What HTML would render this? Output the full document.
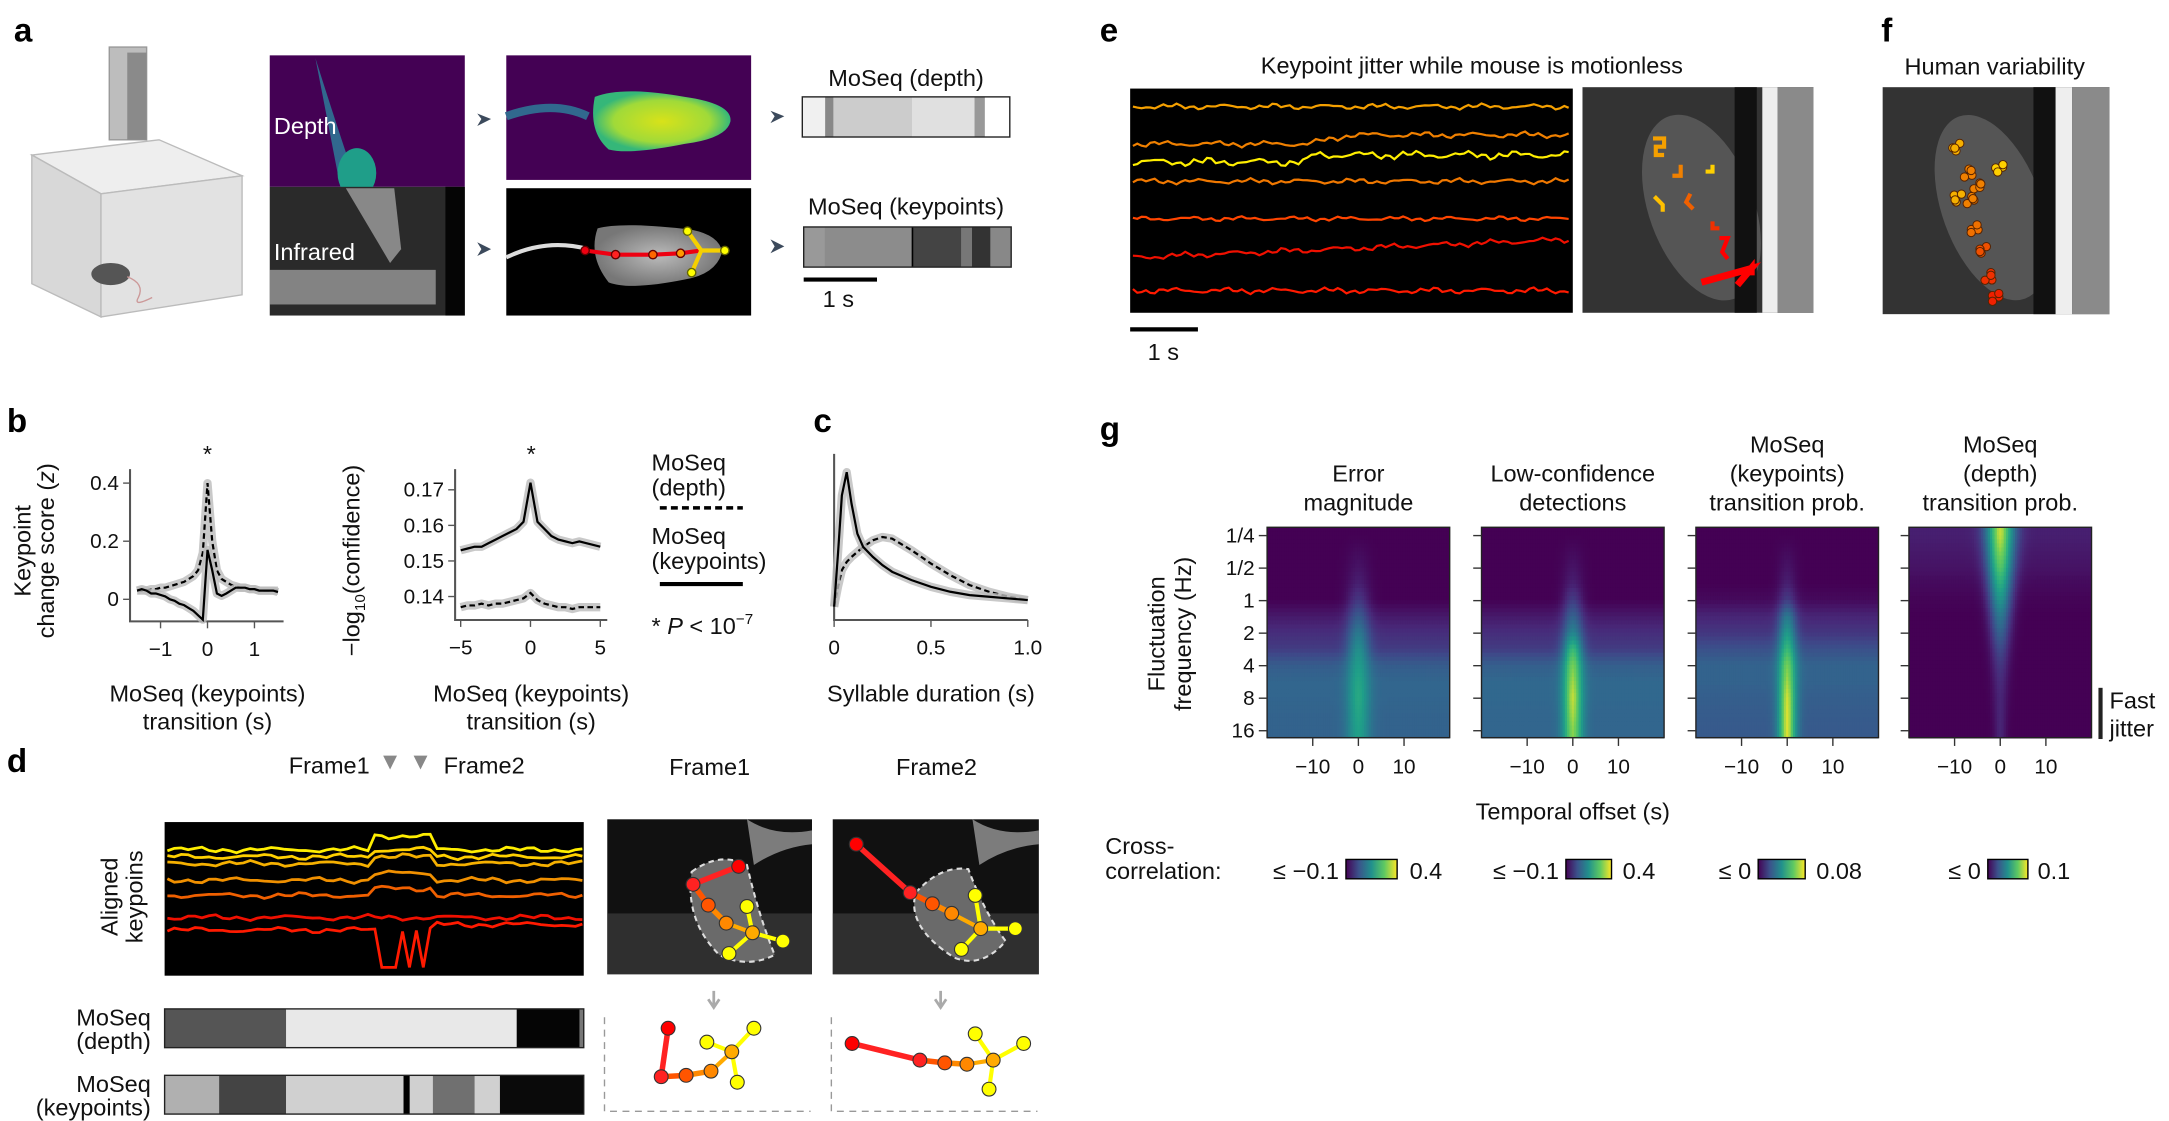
<!DOCTYPE html>
<html><head><meta charset="utf-8">
<style>
html,body{margin:0;padding:0;background:#fff;}
svg{display:block;font-family:"Liberation Sans",sans-serif;}
.lbl{font-weight:bold;font-size:24px;}
.t{font-size:17px;fill:#111;}
.tk{font-size:15px;fill:#111;}
</style></head>
<body>
<svg id="fig" width="2169" height="1121" viewBox="0 0 1568 810" preserveAspectRatio="none" xmlns="http://www.w3.org/2000/svg">
<defs>
<linearGradient id="vir" x1="0" x2="1" y1="0" y2="0">
<stop offset="0" stop-color="#440154"/><stop offset="0.25" stop-color="#3b528b"/><stop offset="0.5" stop-color="#21918c"/><stop offset="0.75" stop-color="#5ec962"/><stop offset="1" stop-color="#fde725"/>
</linearGradient>
<radialGradient id="mouseDepth" cx="0.5" cy="0.5" r="0.5"><stop offset="0" stop-color="#d8e219"/><stop offset="0.7" stop-color="#a0da39"/><stop offset="1" stop-color="#35b779"/></radialGradient>
<radialGradient id="mouseIR" cx="0.5" cy="0.5" r="0.5"><stop offset="0" stop-color="#bbb"/><stop offset="1" stop-color="#777"/></radialGradient>
</defs>

<!-- Panel a -->
<g>
<text class="lbl" x="10" y="30">a</text>
<rect x="79" y="34" width="27" height="67" fill="#bdbdbd" stroke="#999"/>
<rect x="92" y="38" width="14" height="63" fill="#8a8a8a"/>
<polygon points="23,112 115,101 175,127 73,140" fill="#eee" stroke="#bbb"/>
<polygon points="23,112 73,140 73,229 23,205" fill="#d8d8d8" stroke="#bbb"/>
<polygon points="73,140 175,127 175,213 73,229" fill="#e2e2e2" stroke="#bbb"/>
<ellipse cx="80" cy="198" rx="14" ry="8" fill="#555"/>
<path d="M92 200 Q105 205 100 215 Q96 222 110 215" stroke="#c99" fill="none"/>

<rect x="195" y="40" width="141" height="95" fill="#440154"/>
<path d="M228 42 Q240 80 250 110 L262 135 L246 135 Z" fill="#31688e"/>
<ellipse cx="258" cy="125" rx="14" ry="18" fill="#1f9e89"/>
<text x="198" y="97" fill="#fff" font-size="17">Depth</text>
<rect x="195" y="135" width="141" height="93" fill="#2a2a2a"/>
<path d="M250 136 L285 136 L290 180 L282 190 Z" fill="#888"/>
<rect x="195" y="195" width="120" height="25" fill="#aaa" opacity="0.7"/>
<rect x="322" y="135" width="14" height="93" fill="#050505"/>
<text x="198" y="188" fill="#fff" font-size="17">Infrared</text>

<rect x="366" y="40" width="177" height="90" fill="#440154"/>
<path d="M366 84 Q400 72 425 84" stroke="#31688e" stroke-width="6" fill="none"/>
<path d="M430 70 Q450 62 495 70 Q530 75 528 88 Q525 100 495 104 Q455 112 440 108 Q425 95 430 70 Z" fill="url(#mouseDepth)"/>
<rect x="366" y="136" width="177" height="92" fill="#000"/>
<path d="M366 186 Q395 172 425 180" stroke="#ddd" stroke-width="3" fill="none"/>
<path d="M432 165 Q450 160 500 166 Q520 170 522 182 Q518 198 495 202 Q455 210 440 204 Q425 185 432 165 Z" fill="url(#mouseIR)"/>
<g>
<polyline points="423,181 445,184 472,184 492,183 507,181" stroke="#e01" stroke-width="3" fill="none"/>
<polyline points="497,167 507,181 500,197" stroke="#f5d000" stroke-width="3" fill="none"/>
<polyline points="507,181 524,181" stroke="#f5d000" stroke-width="3" fill="none"/>
<circle cx="423" cy="181" r="3" fill="#e01" stroke="#600"/><circle cx="445" cy="184" r="3" fill="#f22" stroke="#600"/><circle cx="472" cy="184" r="3" fill="#f60" stroke="#600"/><circle cx="492" cy="183" r="3" fill="#f90" stroke="#600"/><circle cx="497" cy="167" r="3" fill="#ff0" stroke="#660"/><circle cx="500" cy="197" r="3" fill="#ff0" stroke="#660"/><circle cx="524" cy="181" r="3" fill="#ff0" stroke="#660"/>
</g>
<path d="M345 82 L355 86 L345 91 L348 86 Z" fill="#3c4a5c"/>
<path d="M345 175 L355 180 L345 185 L348 180 Z" fill="#3c4a5c"/>
<path d="M557 80 L567 84 L557 89 L560 84 Z" fill="#3c4a5c"/>
<path d="M557 173 L567 178 L557 183 L560 178 Z" fill="#3c4a5c"/>
<text class="t" x="655" y="62" text-anchor="middle" font-size="19">MoSeq (depth)</text>
<g id="barA1"></g>
<text class="t" x="655" y="155" text-anchor="middle" font-size="19">MoSeq (keypoints)</text>
<g id="barA2"></g>
<line x1="581" y1="202" x2="634" y2="202" stroke="#000" stroke-width="3"/>
<text class="t" x="606" y="222" text-anchor="middle">1 s</text>
</g>

<!-- Panel e -->
<g>
<text class="lbl" x="795" y="30">e</text>
<text class="t" x="1064" y="53" text-anchor="middle">Keypoint jitter while mouse is motionless</text>
<rect x="817" y="64" width="320" height="162" fill="#000"/>
<g id="eTraces"></g>
<rect x="1144" y="63" width="167" height="163" fill="#333"/>
<ellipse cx="1230" cy="150" rx="38" ry="70" fill="#555" transform="rotate(-20 1230 150)"/>
<rect x="1254" y="63" width="16" height="163" fill="#111"/>
<rect x="1274" y="63" width="11" height="163" fill="#eee"/>
<rect x="1285" y="63" width="26" height="163" fill="#8a8a8a"/>
<g fill="none" stroke-width="3">
<path d="M1195 100 l8 0 l0 6 l-6 0 l0 6 l6 0" stroke="#f5a000"/>
<path d="M1215 119 l0 8 l-6 0" stroke="#f08000"/>
<path d="M1238 119 l0 5 l-5 0" stroke="#ffd000"/>
<path d="M1196 142 l6 6 l0 5" stroke="#ffc000"/>
<path d="M1222 140 l-3 6 l5 5" stroke="#f06000"/>
<path d="M1238 160 l0 5 l5 0" stroke="#f03000"/>
<path d="M1243 172 l6 0 l-4 10 l4 5" stroke="#f00"/>
<path d="M1230 204 l36 -10 l-10 12 l10 -12 l0 5" stroke="#f00" stroke-width="5"/>
</g>
<line x1="817" y1="238" x2="866" y2="238" stroke="#000" stroke-width="3"/>
<text class="t" x="841" y="260" text-anchor="middle">1 s</text>
</g>

<!-- Panel f -->
<g>
<text class="lbl" x="1360" y="30">f</text>
<text class="t" x="1442" y="54" text-anchor="middle">Human variability</text>
<rect x="1361" y="63" width="164" height="164" fill="#333"/>
<ellipse cx="1440" cy="150" rx="36" ry="70" fill="#555" transform="rotate(-20 1440 150)"/>
<rect x="1470" y="63" width="16" height="164" fill="#111"/>
<rect x="1486" y="63" width="12" height="164" fill="#eee"/>
<rect x="1498" y="63" width="27" height="164" fill="#8a8a8a"/>
<g id="fDots"></g>
</g>

<!-- Panel b -->
<g>
<text class="lbl" x="5" y="312">b</text>
<g id="b1"></g>
<text class="t" x="150" y="334" text-anchor="middle" font-size="18">*</text>
<text class="t" transform="translate(22 398) rotate(-90)" text-anchor="middle">Keypoint</text>
<text class="t" transform="translate(39 398) rotate(-90)" text-anchor="middle">change score (<tspan font-style="italic">z</tspan>)</text>
<text class="t" x="150" y="507" text-anchor="middle">MoSeq (keypoints)</text>
<text class="t" x="150" y="527" text-anchor="middle">transition (s)</text>
<g id="b2"></g>
<text class="t" x="384" y="334" text-anchor="middle" font-size="18">*</text>
<text class="t" transform="translate(260 405) rotate(-90)" text-anchor="middle">−log<tspan font-size="11" dy="4">10</tspan><tspan dy="-4">(confidence)</tspan></text>
<text class="t" x="384" y="507" text-anchor="middle">MoSeq (keypoints)</text>
<text class="t" x="384" y="527" text-anchor="middle">transition (s)</text>
<g>
<text class="t" x="471" y="340">MoSeq</text>
<text class="t" x="471" y="358">(depth)</text>
<line x1="477" y1="367" x2="537" y2="367" stroke="#000" stroke-width="2.5" stroke-dasharray="5,3"/>
<text class="t" x="471" y="393">MoSeq</text>
<text class="t" x="471" y="411">(keypoints)</text>
<line x1="477" y1="422" x2="537" y2="422" stroke="#000" stroke-width="3"/>
<text class="t" x="471" y="458">* <tspan font-style="italic">P</tspan> &lt; 10<tspan font-size="11" dy="-7">−7</tspan></text>
</g>
</g>

<!-- Panel c -->
<g>
<text class="lbl" x="588" y="312">c</text>
<g id="c1"></g>
<text class="t" x="673" y="507" text-anchor="middle">Syllable duration (s)</text>
</g>

<!-- Panel g -->
<g>
<text class="lbl" x="795" y="318">g</text>
<text class="t" transform="translate(842 458) rotate(-90)" text-anchor="middle">Fluctuation</text>
<text class="t" transform="translate(861 458) rotate(-90)" text-anchor="middle">frequency (Hz)</text>
<g id="gmaps"></g>
<text class="t" x="1137" y="592" text-anchor="middle">Temporal offset (s)</text>
<rect x="1517" y="497" width="3" height="37" fill="#222"/>
<text class="t" x="1525" y="512">Fast</text>
<text class="t" x="1525" y="532">jitter</text>
<text class="t" x="799" y="617">Cross-</text>
<text class="t" x="799" y="635">correlation:</text>
<g>
<text class="t" x="968" y="635" text-anchor="end">≤ −0.1</text>
<rect x="973" y="621" width="37" height="14" fill="url(#vir)" stroke="#000"/>
<text class="t" x="1019" y="635">0.4</text>
<text class="t" x="1127" y="635" text-anchor="end">≤ −0.1</text>
<rect x="1132" y="621" width="33" height="14" fill="url(#vir)" stroke="#000"/>
<text class="t" x="1173" y="635">0.4</text>
<text class="t" x="1266" y="635" text-anchor="end">≤ 0</text>
<rect x="1271" y="621" width="34" height="14" fill="url(#vir)" stroke="#000"/>
<text class="t" x="1313" y="635">0.08</text>
<text class="t" x="1432" y="635" text-anchor="end">≤ 0</text>
<rect x="1437" y="621" width="29" height="14" fill="url(#vir)" stroke="#000"/>
<text class="t" x="1473" y="635">0.1</text>
</g>
</g>

<!-- Panel d -->
<g>
<text class="lbl" x="5" y="558">d</text>
<text class="t" x="238" y="559" text-anchor="middle">Frame1</text>
<text class="t" x="350" y="559" text-anchor="middle">Frame2</text>
<path d="M277 546 L287 546 L282 556 Z" fill="#888"/>
<path d="M299 546 L309 546 L304 556 Z" fill="#888"/>
<text class="t" transform="translate(85 648) rotate(-90)" text-anchor="middle">Aligned</text>
<text class="t" transform="translate(103 648) rotate(-90)" text-anchor="middle">keypoins</text>
<rect x="119" y="594" width="303" height="111" fill="#000"/>
<g id="dTraces"></g>
<text class="t" x="513" y="560" text-anchor="middle">Frame1</text>
<text class="t" x="677" y="560" text-anchor="middle">Frame2</text>
<rect x="439" y="592" width="148" height="112" fill="#111"/>
<rect x="602" y="592" width="149" height="112" fill="#111"/>
<path d="M540 592 Q560 605 587 600 L587 610 Q565 612 545 625 Z" fill="#aaa" opacity="0.7"/>
<path d="M703 592 Q723 605 751 600 L751 610 Q728 612 708 625 Z" fill="#aaa" opacity="0.7"/>
<rect x="439" y="660" width="148" height="44" fill="#444" opacity="0.6"/>
<rect x="602" y="660" width="149" height="44" fill="#444" opacity="0.6"/>
<path d="M500 630 Q520 615 540 625 Q548 660 560 690 Q540 700 520 690 Q495 665 500 630 Z" fill="#6a6a6a" stroke="#ddd" stroke-dasharray="4,3" stroke-width="1.5"/>
<path d="M662 645 Q680 625 700 628 Q712 660 727 680 Q710 700 690 692 Q655 670 662 645 Z" fill="#6a6a6a" stroke="#ddd" stroke-dasharray="4,3" stroke-width="1.5"/>
<g id="skels"></g>
<path d="M516 716 L516 727 M512 722 L516 728 L520 722" stroke="#aaa" stroke-width="2" fill="none"/>
<path d="M680 716 L680 727 M676 722 L680 728 L684 722" stroke="#aaa" stroke-width="2" fill="none"/>
<path d="M437 735 L437 803 L586 803" stroke="#999" stroke-dasharray="5,4" fill="none"/>
<path d="M601 735 L601 803 L750 803" stroke="#999" stroke-dasharray="5,4" fill="none"/>
<text class="t" x="109" y="741" text-anchor="end">MoSeq</text>
<text class="t" x="109" y="758" text-anchor="end">(depth)</text>
<text class="t" x="109" y="789" text-anchor="end">MoSeq</text>
<text class="t" x="109" y="806" text-anchor="end">(keypoints)</text>
<g id="barD1"></g>
<g id="barD2"></g>
</g>
</svg>

<script>
// ---------- data ----------
const b1Times = [-1.5,-1.4,-1.3,-1.2,-1.1,-1.0,-0.9,-0.8,-0.7,-0.6,-0.5,-0.4,-0.3,-0.2,-0.1,0,0.1,0.2,0.3,0.4,0.5,0.6,0.7,0.8,0.9,1.0,1.1,1.2,1.3,1.4,1.5];
const b1Depth = [0.03,0.03,0.03,0.035,0.035,0.04,0.04,0.045,0.05,0.055,0.06,0.07,0.08,0.1,0.16,0.4,0.2,0.1,0.07,0.06,0.05,0.045,0.04,0.04,0.035,0.035,0.03,0.03,0.03,0.03,0.03];
const b1Keypoints = [0.03,0.035,0.03,0.02,0.02,0.015,0.01,0.0,-0.005,-0.015,-0.02,-0.03,-0.04,-0.055,-0.07,0.17,0.1,0.02,0.012,0.02,0.03,0.04,0.04,0.04,0.035,0.035,0.03,0.03,0.03,0.03,0.025];
const b1XTicks = [-1,0,1];
const b1YTicks = [0,0.2,0.4];
const b1YTickLabels = ['0','0.2','0.4'];

const b2Times = [-5,-4.5,-4,-3.5,-3,-2.5,-2,-1.5,-1,-0.5,0,0.5,1,1.5,2,2.5,3,3.5,4,4.5,5];
const b2Keypoints = [0.153,0.1535,0.154,0.154,0.155,0.156,0.157,0.158,0.159,0.161,0.172,0.161,0.159,0.157,0.156,0.1555,0.155,0.1555,0.155,0.1545,0.154];
const b2Depth = [0.137,0.1375,0.1375,0.138,0.1375,0.138,0.138,0.1385,0.139,0.1395,0.141,0.139,0.138,0.1375,0.137,0.137,0.1365,0.137,0.137,0.137,0.137];
const b2XTicks = [-5,0,5];
const b2YTicks = [0.14,0.15,0.16,0.17];
const b2YTickLabels = ['0.14','0.15','0.16','0.17'];

const cDurations = [0,0.02,0.04,0.065,0.09,0.12,0.15,0.2,0.25,0.3,0.4,0.5,0.6,0.7,0.8,0.9,1.0];
const cKeypoints = [0.08,0.4,0.75,0.89,0.7,0.52,0.44,0.38,0.33,0.29,0.24,0.2,0.17,0.15,0.14,0.13,0.12];
const cDepth = [0.08,0.2,0.3,0.35,0.38,0.41,0.44,0.48,0.5,0.49,0.42,0.34,0.27,0.21,0.17,0.14,0.12];
const cXTicks = [0,0.5,1.0];
const cXTickLabels = ['0','0.5','1.0'];

const gTitles = [['Error','magnitude'],['Low-confidence','detections'],['MoSeq','(keypoints)','transition prob.'],['MoSeq','(depth)','transition prob.']];
const gFreqLabels = ['1/4','1/2','1','2','4','8','16'];
const gOffsetTicks = [-10,0,10];
// per-row (top = 1/4 Hz ... bottom = 16 Hz) background level and peak level at offset 0 (normalised 0..1)
const gBg1 = [0,0,0,0,0,0.08,0.15,0.2,0.33,0.37,0.37,0.36,0.36];
const gPk1 = [0,0.03,0.06,0.1,0.18,0.32,0.45,0.55,0.62,0.66,0.68,0.66,0.64];
const gBg2 = [0,0,0,0,0,0.08,0.15,0.2,0.34,0.38,0.38,0.37,0.37];
const gPk2 = [0,0.03,0.06,0.1,0.2,0.35,0.5,0.75,0.88,0.92,0.95,0.93,0.9];
const gBg3 = [0,0,0,0,0.03,0.12,0.18,0.28,0.36,0.36,0.34,0.33,0.32];
const gPk3 = [0,0.03,0.06,0.1,0.2,0.45,0.6,0.75,0.88,0.92,0.96,0.97,0.97];
const gBg4 = [0.1,0.08,0.06,0.03,0.01,0,0,0,0,0,0,0,0];
const gPk4 = [0.95,0.9,0.82,0.7,0.58,0.45,0.35,0.25,0.18,0.14,0.12,0.12,0.12];
const gWidths = [2.5,2.2,2.0,1.3];

const barA1Segments = [[0,0.11,'#f0f0f0'],[0.11,0.15,'#888'],[0.15,0.53,'#ccc'],[0.53,0.83,'#e0e0e0'],[0.83,0.88,'#999'],[0.88,1,'#fff']];
const barA2Segments = [[0,0.1,'#999'],[0.1,0.52,'#8c8c8c'],[0.52,0.53,'#000'],[0.53,0.76,'#444'],[0.76,0.81,'#777'],[0.81,0.9,'#333'],[0.9,1,'#888']];
const barD1Segments = [[0,0.29,'#555'],[0.29,0.84,'#e8e8e8'],[0.84,0.99,'#050505'],[0.99,1,'#777']];
const barD2Segments = [[0,0.13,'#b0b0b0'],[0.13,0.29,'#444'],[0.29,0.57,'#d0d0d0'],[0.57,0.585,'#000'],[0.585,0.64,'#d0d0d0'],[0.64,0.74,'#707070'],[0.74,0.8,'#d0d0d0'],[0.8,1,'#0a0a0a']];

const NS='http://www.w3.org/2000/svg';
function mk(tag, parent){const e=document.createElementNS(NS,tag);parent.appendChild(e);return e;}
function set(e,o){for(const k in o)e.setAttribute(k,o[k]);return e;}

// ---------- generic line chart ----------
function lineChart(gid, cfg){
  const g=document.getElementById(gid);
  const sx=v=>cfg.x0+(v-cfg.xd[0])/(cfg.xd[1]-cfg.xd[0])*(cfg.x1-cfg.x0);
  const sy=v=>cfg.y0-(v-cfg.yd[0])/(cfg.yd[1]-cfg.yd[0])*(cfg.y0-cfg.y1);
  const ax=mk('path',g);
  set(ax,{d:`M${cfg.x0} ${cfg.y1} L${cfg.x0} ${cfg.y0} L${cfg.x1} ${cfg.y0}`,stroke:'#555',fill:'none','stroke-width':1.5});
  
  
  cfg.xt.forEach((v,i)=>{
    const t=mk('line',g);set(t,{x1:sx(v),x2:sx(v),y1:cfg.y0,y2:cfg.y0+5,stroke:'#555'});
    
    
    const l=mk('text',g);set(l,{x:sx(v),y:cfg.y0+25,'text-anchor':'middle','class':'tk'});l.textContent=cfg.xtl?cfg.xtl[i]:(v<0?'−'+(-v):String(v));
    
    
  });
  (cfg.yt||[]).forEach((v,i)=>{
    const t=mk('line',g);set(t,{x1:cfg.x0-5,x2:cfg.x0,y1:sy(v),y2:sy(v),stroke:'#555'});
    
    
    const l=mk('text',g);set(l,{x:cfg.x0-8,y:sy(v)+5,'text-anchor':'end','class':'tk'});l.textContent=cfg.ytl[i];
    
    
  });
  cfg.series.forEach(s=>{
    const pts=s.v.map((v,i)=>sx(cfg.xs[i])+','+sy(v)).join(' ');
    const band=mk('polyline',g);set(band,{points:pts,fill:'none',stroke:'#bbb','stroke-width':6,'stroke-linejoin':'round',opacity:0.8});
    
    
    const p=mk('polyline',g);set(p,{points:pts,fill:'none',stroke:'#000','stroke-width':1.6});
    if(s.dash)p.setAttribute('stroke-dasharray','4,2.5');
    
    
  });
}
lineChart('b1',{x0:94,x1:205,y0:449,y1:339,xd:[-1.65,1.62],yd:[-0.076,0.448],xt:b1XTicks,yt:b1YTicks,ytl:b1YTickLabels,xs:b1Times,
  series:[{v:b1Depth,dash:true,name:'depth'},{v:b1Keypoints,name:'keypoints'}]});
lineChart('b2',{x0:329,x1:439,y0:448,y1:339,xd:[-5.4,5.5],yd:[0.1334,0.1758],xt:b2XTicks,yt:b2YTicks,ytl:b2YTickLabels,xs:b2Times,
  series:[{v:b2Depth,dash:true,name:'depth'},{v:b2Keypoints,name:'keypoints'}]});
lineChart('c1',{x0:603,x1:743,y0:448,y1:328,xd:[0,1],yd:[0,1],xt:cXTicks,xtl:cXTickLabels,xs:cDurations,
  series:[{v:cDepth,dash:true,name:'depth'},{v:cKeypoints,name:'keypoints'}]});

// ---------- heatmaps ----------
const vstops=[[0,[68,1,84]],[0.13,[72,40,120]],[0.25,[62,73,137]],[0.38,[49,104,142]],[0.5,[38,130,142]],[0.63,[31,158,137]],[0.75,[53,183,121]],[0.88,[110,206,88]],[1,[253,231,37]]];
function vir(t){t=Math.max(0,Math.min(1,t));for(let i=1;i<vstops.length;i++){if(t<=vstops[i][0]){const a=vstops[i-1],b=vstops[i];const f=(t-a[0])/(b[0]-a[0]);return 'rgb('+a[1].map((c,k)=>Math.round(c+(b[1][k]-c)*f)).join(',')+')';}}return 'rgb(253,231,37)';}
function interp(arr,f){const i=Math.floor(f),j=Math.min(arr.length-1,i+1),w=f-i;return arr[i]*(1-w)+arr[j]*w;}
const gm=document.getElementById('gmaps');
const hmLeft=[916,1071,1226,1380], hmW=132, hmTop=381, hmBot=533;
const bgs=[gBg1,gBg2,gBg3,gBg4], pks=[gPk1,gPk2,gPk3,gPk4];
const offs=[];for(let t=-20;t<=20;t+=0.5)offs.push(t);
for(let p=0;p<4;p++){
  const L=hmLeft[p];
  const sx=v=>L+(v+20)/40*hmW;
  const hg=mk('g',gm);
  
  
  const rows=bgs[p].length, sub=4, nR=rows*sub, rh=(hmBot-hmTop)/nR, cw=hmW/(offs.length-1);
  for(let r=0;r<nR;r++){
    const f=Math.min(rows-1,Math.max(0,(r+0.5)/sub-0.5));
    const bg=interp(bgs[p],f), pk=interp(pks[p],f);
    const w=p===3?gWidths[p]*(1+(rows-1-f)*0.12):gWidths[p];
    offs.forEach((t,j)=>{
      const val=bg+(pk-bg)*Math.exp(-Math.pow(t/w,2));
      const c=mk('rect',hg);set(c,{x:Math.max(L,sx(t)-cw/2),y:hmTop+r*rh,width:Math.min(cw+0.6,L+hmW-Math.max(L,sx(t)-cw/2)),height:rh+0.6,fill:vir(val)});
      
      
    });
  }
  const fr=mk('rect',hg);set(fr,{x:L,y:hmTop,width:hmW,height:hmBot-hmTop,fill:'none',stroke:'#222','stroke-width':1});
  
  
  gFreqLabels.forEach((lab,i)=>{
    const y=387+i*(528-387)/(gFreqLabels.length-1);
    const tk=mk('line',hg);set(tk,{x1:L-6,x2:L,y1:y,y2:y,stroke:'#333'});
    
    
    if(p===0){const tl=mk('text',hg);set(tl,{x:L-9,y:y+5,'text-anchor':'end','class':'tk'});tl.textContent=lab;
      
      }
  });
  gOffsetTicks.forEach(v=>{
    const tk=mk('line',hg);set(tk,{x1:sx(v),x2:sx(v),y1:hmBot,y2:hmBot+6,stroke:'#333'});
    
    
    const tl=mk('text',hg);set(tl,{x:sx(v),y:hmBot+26,'text-anchor':'middle','class':'tk'});tl.textContent=v<0?'−'+(-v):String(v);
    
    
  });
  const lines=gTitles[p];
  lines.forEach((s,i)=>{
    const tt=mk('text',hg);set(tt,{x:L+hmW/2,y:369-(lines.length-1-i)*21,'text-anchor':'middle','class':'t'});tt.textContent=s;
    
    
  });
}

// ---------- segment bars ----------
function segBar(id,x0,x1,y0,y1,segs){
  const g=document.getElementById(id);
  segs.forEach(s=>{const r=mk('rect',g);set(r,{x:x0+s[0]*(x1-x0),y:y0,width:(s[1]-s[0])*(x1-x0),height:y1-y0,fill:s[2]});
    
    });
  const f=mk('rect',g);set(f,{x:x0,y:y0,width:x1-x0,height:y1-y0,fill:'none',stroke:'#222'});
  
  
}
segBar('barA1',580,730,70,99,barA1Segments);
segBar('barA2',581,731,164,193,barA2Segments);
segBar('barD1',119,422,729,757,barD1Segments);
segBar('barD2',119,422,777,805,barD2Segments);

// ---------- decorative traces (panels d, e) ----------
function wig(i,k){return Math.sin(i*1.7+k*3.1)*0.6+Math.sin(i*0.53+k)*0.9+Math.sin(i*4.3+k*7)*0.5;}
const eT=document.getElementById('eTraces');
const eLines=[[77,'#f5a000',1.2],[104,'#f08000',1.3],[117,'#ffee00',1.8],[131,'#f07800',1.2],[158,'#ff4500',1.0],[186,'#f01000',1.3],[210,'#ff1a00',1.3]];
eLines.forEach((L,k)=>{
  let pts=[];for(let i=0;i<=100;i++){const x=819+i*3.15;let y=L[0]+wig(i,k)*L[2];
    if(k===1&&i>40)y-=(Math.min(i,50)-40)*0.65;
    if(k===2&&i>40)y-=5;
    if(k===5)y-=i*0.13;
    pts.push(x+','+y);}
  const p=mk('polyline',eT);set(p,{points:pts.join(' '),fill:'none',stroke:L[1],'stroke-width':1.6});
  
  
});
const dT=document.getElementById('dTraces');
const dLines=[[614,'#ffee00'],[619,'#ffd000'],[624,'#f5b000'],[636,'#f09000'],[647,'#f06000'],[663,'#f01000'],[672,'#ff1a00']];
dLines.forEach((L,k)=>{
  let pts=[];for(let i=0;i<=60;i++){const x=121+i*5;let y=L[0]+wig(i,k+3)*1.2;
    if(i>=30&&i<=38&&k<5)y-=(k===0?10:5);
    if(k===6&&(i===31||i===32||i===33||i===35||i===37))y=699;
    if(k===6&&i>38)y-=4;
    pts.push(x+','+y);}
  const p=mk('polyline',dT);set(p,{points:pts.join(' '),fill:'none',stroke:L[1],'stroke-width':2});
  
  
});

// ---------- skeletons ----------
const sk=document.getElementById('skels');
const skelCols=['#f00','#f22','#f50','#f80','#fa0','#ff0','#ff0','#ff0'];
const skeletons=[
 [[534,626],[501,639],[512,654],[525,667],[544,674],[540,655],[566,680],[527,689]],
 [[619,610],[658,645],[674,653],[688,660],[709,671],[705,647],[734,671],[695,686]],
 [[483,743],[478,778],[496,777],[514,774],[529,760],[545,743],[511,753],[533,782]],
 [[616,754],[665,766],[683,768],[699,769],[718,766],[705,747],[740,754],[715,787]]];
skeletons.forEach(P=>{
  const seg=[[0,1],[1,2],[2,3],[3,4],[4,5],[4,6],[4,7]];
  seg.forEach(([a,b])=>{const l=mk('line',sk);set(l,{x1:P[a][0],y1:P[a][1],x2:P[b][0],y2:P[b][1],stroke:skelCols[b],'stroke-width':b<4?4:3});
    
    });
  P.forEach((pt,i)=>{const c=mk('circle',sk);set(c,{cx:pt[0],cy:pt[1],r:5,fill:skelCols[i],stroke:'#333','stroke-width':0.8});
    
    });
});
// human variability dots
const fd=document.getElementById('fDots');
const fClusters=[[1414,106,'#f5b000'],[1423,125,'#f08000'],[1445,122,'#ffd000'],[1425,145,'#f08000'],[1415,143,'#f5b000'],[1428,165,'#f07000'],[1433,180,'#f05000'],[1438,200,'#f03000'],[1442,215,'#f02000'],[1430,135,'#f08000']];
fClusters.forEach((c,k)=>{for(let j=0;j<4;j++){const d=mk('circle',fd);set(d,{cx:c[0]+Math.sin(j*2+k)*3,cy:c[1]+Math.cos(j*2.5+k)*3,r:3,fill:c[2],stroke:'#552200','stroke-width':0.7});
  
  }});
</script>
</body></html>
